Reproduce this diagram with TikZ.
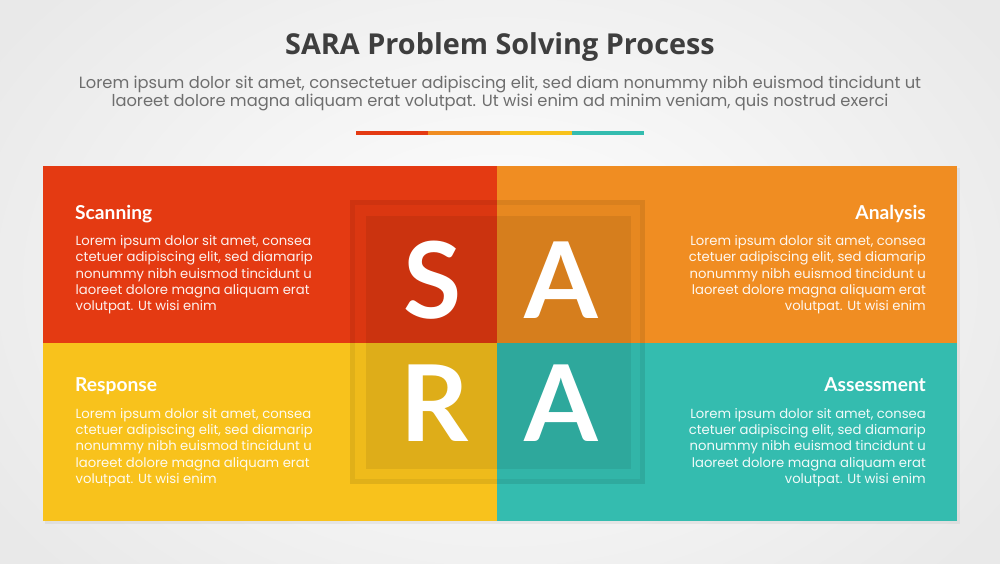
\documentclass[tikz,border=0pt]{standalone}
\usepackage{fontspec}
\newfontfamily\titlefont{Open Sans}
\newfontfamily\popfont{Poppins}
\newfontfamily\latofont{Lato}
\definecolor{sred}{HTML}{E43A12}
\definecolor{sorange}{HTML}{F08D22}
\definecolor{syellow}{HTML}{F8C21C}
\definecolor{steal}{HTML}{34BCAF}
\definecolor{bgedge}{HTML}{E9E9E9}
\definecolor{titlegray}{HTML}{3E3E3E}
\definecolor{subgray}{HTML}{6E6E6E}
\tikzset{
  quad/.style={draw=none, inner sep=0, outer sep=0},
  head/.style={font=\latofont\bfseries\fontsize{19.2}{22}\selectfont, text=white, inner sep=0},
  bodytext/.style={font=\popfont\fontsize{13.2}{16.3}\selectfont, text=white, text opacity=0.93, inner sep=0},
  bigletter/.style={font=\latofont\bfseries\fontsize{106}{106}\selectfont, text=white, inner sep=0, anchor=base},
  barseg/.style={line width=4pt},
}
\begin{document}
\begin{tikzpicture}[x=1pt,y=-1pt]
\useasboundingbox (0,0) rectangle (1000,563);
% background
\shade[inner color=white, outer color=bgedge] (-100,-150) rectangle (1100,713);
% title
\node[font=\titlefont\bfseries\fontsize{28.8}{32}\selectfont, text=titlegray, anchor=base, inner sep=0] (title) at (500,54.3) {SARA Problem Solving Process};
\node[font=\popfont\fontsize{16.3}{18.3}\selectfont, text=subgray, align=center, anchor=north, inner sep=0] (subtitle) at (500,75.6)
  {Lorem ipsum dolor sit amet, consectetuer adipiscing elit, sed diam nonummy nibh euismod tincidunt ut\\
   laoreet dolore magna aliquam erat volutpat. Ut wisi enim ad minim veniam, quis nostrud exerci};
% colour bar
\coordinate (b0) at (356,133);
\coordinate (b1) at (428,133);
\coordinate (b2) at (500,133);
\coordinate (b3) at (572,133);
\coordinate (b4) at (644,133);
\draw[barseg, sred] (b0) -- (b1);
\draw[barseg, sorange] (b1) -- (b2);
\draw[barseg, syellow] (b2) -- (b3);
\draw[barseg, steal] (b3) -- (b4);
% panel shadow
\fill[black, opacity=0.05] (45,168) rectangle (960,524);
% quadrants
\fill[sred] (43,166) rectangle (497,343);
\fill[sorange] (497,166) rectangle (957,343);
\fill[syellow] (43,343) rectangle (497,521);
\fill[steal] (497,343) rectangle (957,521);
\node[quad, minimum width=454, minimum height=177] (q1) at (270,254.5) {};
\node[quad, minimum width=460, minimum height=177] (q2) at (727,254.5) {};
\node[quad, minimum width=454, minimum height=178] (q3) at (270,432) {};
\node[quad, minimum width=460, minimum height=178] (q4) at (727,432) {};
% centre frame
\fill[black, opacity=0.035] (350,200) rectangle (645,484);
\draw[black, opacity=0.06, line width=5pt] (352.5,202.5) rectangle (642.5,481.5);
\fill[black, opacity=0.07] (366,216) rectangle (631,469);
% big letters
\node[bigletter] (lS) at (433,318) {S};
\node[bigletter] (lA1) at (561,318) {A};
\node[bigletter] (lR) at (435,441.7) {R};
\node[bigletter] (lA2) at (561,441.7) {A};
% headings
\node[head, anchor=base west] (h1) at (75,219) {Scanning};
\node[head, anchor=base east] (h2) at (926,219) {Analysis};
\node[head, anchor=base west] (h3) at (75,391) {Response};
\node[head, anchor=base east] (h4) at (926,391) {Assessment};
% body texts
\node[bodytext, align=left, anchor=north west] (t1) at (75.5,235.2)
  {Lorem ipsum dolor sit amet, consea\\ctetuer adipiscing elit, sed diamarip\\nonummy nibh euismod tincidunt u\\laoreet dolore magna aliquam erat\\volutpat. Ut wisi enim};
\node[bodytext, align=right, anchor=north east] (t2) at (926,235.2)
  {Lorem ipsum dolor sit amet, consea\\ctetuer adipiscing elit, sed diamarip\\nonummy nibh euismod tincidunt u\\laoreet dolore magna aliquam erat\\volutpat. Ut wisi enim};
\node[bodytext, align=left, anchor=north west] (t3) at (75.5,407.9)
  {Lorem ipsum dolor sit amet, consea\\ctetuer adipiscing elit, sed diamarip\\nonummy nibh euismod tincidunt u\\laoreet dolore magna aliquam erat\\volutpat. Ut wisi enim};
\node[bodytext, align=right, anchor=north east] (t4) at (926,407.9)
  {Lorem ipsum dolor sit amet, consea\\ctetuer adipiscing elit, sed diamarip\\nonummy nibh euismod tincidunt u\\laoreet dolore magna aliquam erat\\volutpat. Ut wisi enim};
\end{tikzpicture}
\end{document}
